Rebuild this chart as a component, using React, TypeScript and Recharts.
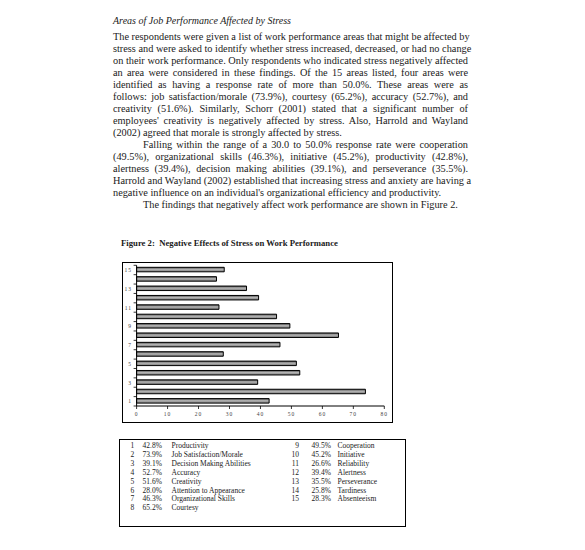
import React from "react";
import { BarChart, Bar, XAxis, YAxis } from "recharts";

// item numbers shown on the category axis (1 at the bottom)
const itemNumbers = [1, 2, 3, 4, 5, 6, 7, 8, 9, 10, 11, 12, 13, 14, 15];
// percent of respondents saying stress hurt this area
const responseRates = [
  42.8, 73.9, 39.1, 52.7, 51.6, 28.0, 46.3, 65.2, 49.5, 45.2, 26.6, 39.4, 35.5,
  25.8, 28.3,
];
const areaNames = [
  "Productivity",
  "Job Satisfaction/Morale",
  "Decision Making Abilities",
  "Accuracy",
  "Creativity",
  "Attention to Appearance",
  "Organizational Skills",
  "Courtesy",
  "Cooperation",
  "Initiative",
  "Reliability",
  "Alertness",
  "Perseverance",
  "Tardiness",
  "Absenteeism",
];
const xTicks = [0, 10, 20, 30, 40, 50, 60, 70, 80];

const chartData = itemNumbers.map((n, i) => ({
  item: String(n),
  rate: responseRates[i],
}));

const bodyLines = [
  { text: "The respondents were given a list of work performance areas that might be affected by", indent: 0, justify: true },
  { text: "stress and were asked to identify whether stress increased, decreased, or had no change", indent: 0, justify: true },
  { text: "on their work performance.  Only respondents who indicated stress negatively affected", indent: 0, justify: true },
  { text: "an area were considered in these findings.  Of the 15 areas listed, four areas were", indent: 0, justify: true },
  { text: "identified as having a response rate of more than 50.0%.  These areas were as", indent: 0, justify: true },
  { text: "follows: job satisfaction/morale (73.9%), courtesy (65.2%), accuracy (52.7%), and", indent: 0, justify: true },
  { text: "creativity (51.6%).  Similarly, Schorr (2001) stated that a significant number of", indent: 0, justify: true },
  { text: "employees' creativity is negatively affected by stress.  Also, Harrold and Wayland", indent: 0, justify: true },
  { text: "(2002) agreed that morale is strongly affected by stress.", indent: 0, justify: false },
  { text: "Falling within the range of a 30.0 to 50.0% response rate were cooperation", indent: 30, justify: true },
  { text: "(49.5%), organizational skills (46.3%), initiative (45.2%), productivity (42.8%),", indent: 0, justify: true },
  { text: "alertness (39.4%), decision making abilities (39.1%), and perseverance (35.5%).", indent: 0, justify: true },
  { text: "Harrold and Wayland (2002) established that increasing stress and anxiety are having a", indent: 0, justify: true },
  { text: "negative influence on an individual's organizational efficiency and productivity.", indent: 0, justify: false },
  { text: "The findings that negatively affect work performance are shown in Figure 2.", indent: 30, justify: false },
];

const BAND = 140.7 / 15;

const CategoryTick = (props: any) => {
  const { x, y, payload } = props;
  const n = Number(payload.value);
  return (
    <g>
      <line x1={x + 2} x2={x + 5} y1={y - BAND / 2} y2={y - BAND / 2} stroke="#000" strokeWidth={0.8} />
      {n === 1 && (
        <line x1={x + 2} x2={x + 5} y1={y + BAND / 2} y2={y + BAND / 2} stroke="#000" strokeWidth={0.8} />
      )}
      {n % 2 === 1 && (
        <text x={x + 0.5} y={y} dy={2} textAnchor="end" fontSize={5.5} letterSpacing={1} fill="#444" fontFamily='"Liberation Serif", serif'>
          {n}
        </text>
      )}
    </g>
  );
};

const legendLeft = itemNumbers.slice(0, 8);
const legendRight = itemNumbers.slice(8);

const LegendRow = ({ n, row, right }: { n: number; row: number; right: boolean }) => {
  const top = 446 + row * 8.9 - 5;
  const base = right ? { num: 299, pct: 311.5, name: 337.5 } : { num: 130.5, pct: 142.5, name: 171.5 };
  const cell: React.CSSProperties = { position: "absolute", top, lineHeight: "10px", fontSize: 7.5, whiteSpace: "nowrap" };
  return (
    <>
      {right ? (
        <div style={{ ...cell, left: base.num - 20, width: 20, textAlign: "right" }}>{n}</div>
      ) : (
        <div style={{ ...cell, left: base.num }}>{n}</div>
      )}
      <div style={{ ...cell, left: base.pct }}>{responseRates[n - 1].toFixed(1)}%</div>
      <div style={{ ...cell, left: base.name }}>{areaNames[n - 1]}</div>
    </>
  );
};

export default function App() {
  return (
    <div
      style={{
        position: "absolute",
        left: 0,
        top: 0,
        width: 585,
        height: 550,
        background: "#fff",
        color: "#1a1a1a",
        fontFamily: '"Liberation Serif", serif',
        overflow: "hidden",
      }}
    >
      <div style={{ position: "absolute", left: 113, top: 15, fontSize: 10, fontStyle: "italic", lineHeight: "12px" }}>
        Areas of Job Performance Affected by Stress
      </div>
      {bodyLines.map((l, i) => (
        <div
          key={i}
          style={{
            position: "absolute",
            left: 113 + l.indent,
            top: 30.5 + i * 12,
            width: 355 - l.indent,
            fontSize: 10.3,
            lineHeight: "12px",
            whiteSpace: "nowrap",
            textAlign: l.justify ? "justify" : "left",
            textAlignLast: l.justify ? "justify" : "left",
          }}
        >
          {l.text}
        </div>
      ))}

      <div style={{ position: "absolute", left: 121, top: 238, fontSize: 8.7, fontWeight: "bold", lineHeight: "10px", whiteSpace: "nowrap" }}>
        Figure 2:&nbsp; Negative Effects of Stress on Work Performance
      </div>

      <div
        style={{
          position: "absolute",
          left: 121.7,
          top: 262,
          width: 269,
          height: 159,
          border: "1px solid #000",
        }}
      >
        <BarChart
          width={269}
          height={159}
          data={chartData}
          layout="vertical"
          margin={{ top: 2.3, right: 7.7, left: 0, bottom: 4 }}
          barSize={4.5}
        >
          <defs>
            <linearGradient id="barShade" x1="0" y1="0" x2="0" y2="1">
              <stop offset="0%" stopColor="#4a4a4a" />
              <stop offset="45%" stopColor="#b4b4b4" />
              <stop offset="100%" stopColor="#7a7a7a" />
            </linearGradient>
          </defs>
          <XAxis
            type="number"
            domain={[0, 80]}
            ticks={xTicks}
            height={12}
            tickSize={3}
            tickMargin={3}
            axisLine={{ stroke: "#000", strokeWidth: 1 }}
            tickLine={{ stroke: "#000", strokeWidth: 0.8 }}
            tick={{ fontSize: 5.5, fill: "#444", letterSpacing: 1, fontFamily: '"Liberation Serif", serif' }}
            interval={0}
          />
          <YAxis
            type="category"
            dataKey="item"
            reversed
            width={13.6}
            tickSize={3}
            tickMargin={2}
            interval={0}
            axisLine={{ stroke: "#000", strokeWidth: 1 }}
            tickLine={false}
            tick={<CategoryTick />}
          />
          <Bar dataKey="rate" fill="url(#barShade)" stroke="#000" strokeWidth={1} isAnimationActive={false} />
        </BarChart>
      </div>

      <div
        style={{
          position: "absolute",
          left: 119.3,
          top: 439,
          width: 285,
          height: 86,
          border: "1px solid #000",
        }}
      />
      {legendLeft.map((n, i) => (
        <LegendRow key={n} n={n} row={i} right={false} />
      ))}
      {legendRight.map((n, i) => (
        <LegendRow key={n} n={n} row={i} right={true} />
      ))}
    </div>
  );
}
